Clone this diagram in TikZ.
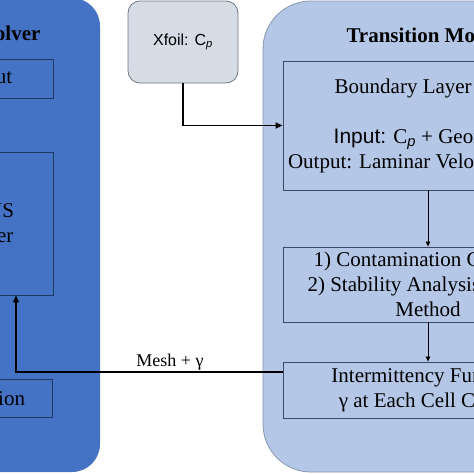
\documentclass[tikz,border=0pt]{standalone}
\usepackage{fontspec}
\setmainfont{Liberation Serif}
\setsansfont{Liberation Sans}
\usetikzlibrary{arrows.meta, positioning}

\definecolor{solverblue}{HTML}{4472C4}
\definecolor{modelblue}{HTML}{B4C7E7}
\definecolor{modeledge}{HTML}{8497B0}
\definecolor{xfoilfill}{HTML}{D6DCE5}
\definecolor{xfoiledge}{HTML}{6F7785}
\definecolor{navyedge}{HTML}{1F3864}
\definecolor{slateedge}{HTML}{3B4A63}

\begin{document}
\begin{tikzpicture}[
    x=1pt, y=-1pt,
    box/.style={rectangle, draw, line width=0.9pt, inner sep=0pt, align=center, font=\fontsize{21}{25}\selectfont},
    lbox/.style={box, draw=navyedge},
    rbox/.style={box, draw=slateedge, minimum width=290pt},
    title/.style={font=\fontsize{21}{25}\selectfont\bfseries},
    arrow/.style={-{Triangle[length=5pt, width=4.5pt]}, line width=0.8pt},
    thickarrow/.style={-{Triangle[length=7pt, width=6pt]}, line width=2pt}
]
\useasboundingbox (0,0) rectangle (474,474);
\clip (0,0) rectangle (474,474);

% Panels
\fill[solverblue, rounded corners=28pt] (-60,-2) rectangle (100,472);
\filldraw[fill=modelblue, draw=modeledge, line width=0.8pt, rounded corners=48pt] (263,1) rectangle (560,472);

% Solver side
\node[title, anchor=base east] (soltitle) at (44,40) {CFD Solver};
\node[lbox, minimum width=126pt, minimum height=39pt] (input) at (-10,78.5) {Input};
\node[lbox, minimum width=134pt, minimum height=143pt] (rans) at (-14,223.5) {RANS\\Solver};
\node[lbox, minimum width=201pt, minimum height=38pt] (meshgen) at (-47.6,398) {Mesh Generation};

% Xfoil
\node[draw=xfoiledge, fill=xfoilfill, rounded corners=12pt, line width=0.8pt, minimum width=110pt, minimum height=82pt, font=\sffamily\fontsize{16}{19}\selectfont] (xfoil) at (183,42) {Xfoil: C\textsubscript{\itshape p}};

% Transition model side
\node[title, anchor=base west] (modtitle) at (343,42) {Transition Model};
\node[rbox, minimum height=129pt] (blayer) at (428,125.5) {Boundary Layer Code\\[25pt]{\sffamily Input:} C\textsubscript{\sffamily\itshape p} + Geometry\\Output: Laminar Velocity Profile};
\node[rbox, minimum height=75pt] (criteria) at (428,284.5) {1) Contamination Criterion\\2) Stability Analysis with e\textsuperscript{N}\\Method};
\node[rbox, minimum height=56pt] (intermit) at (428,390) {Intermittency Function\\γ at Each Cell Center};

% Arrows
\coordinate (meshx) at (16,0);
\draw[thickarrow, line width=1.6pt] (xfoil.south) |- (blayer.west);
\draw[arrow] (blayer.south) -- (criteria.north);
\draw[arrow] (criteria.south) -- (intermit.north);
\draw[thickarrow] ([yshift=18pt]intermit.west) -| (rans.south -| meshx);
\node[font=\fontsize{18}{20}\selectfont, anchor=base] (meshlabel) at (170,366) {Mesh + γ};
\end{tikzpicture}
\end{document}
